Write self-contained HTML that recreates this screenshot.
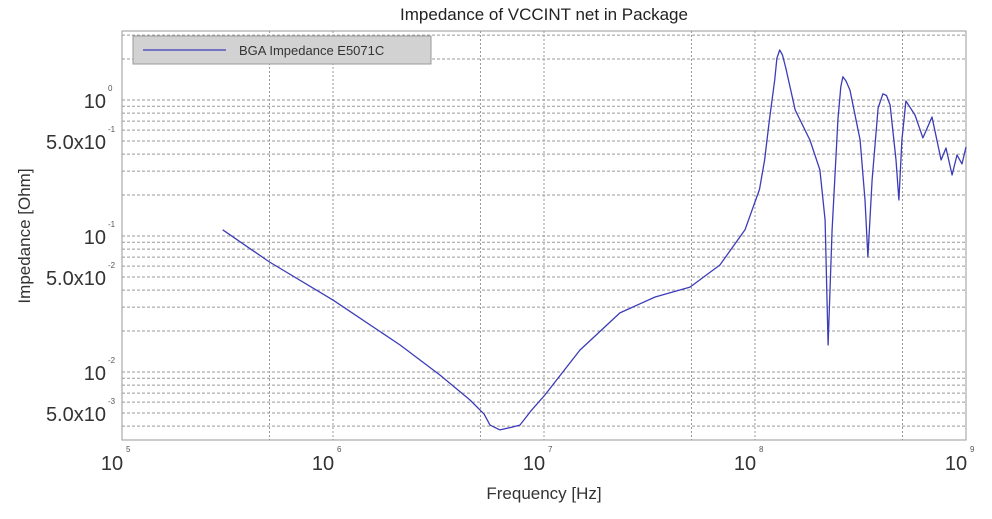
<!DOCTYPE html>
<html><head><meta charset="utf-8"><style>
body{margin:0;background:#fff;}
svg{display:block;font-family:"Liberation Sans",sans-serif;}
</style></head><body>
<svg id="chart" width="992" height="519" viewBox="0 0 992 519" xmlns="http://www.w3.org/2000/svg">
<text x="544" y="20" font-size="17" text-anchor="middle" fill="#222">Impedance of VCCINT net in Package</text>
<g id="grid"></g>
<rect x="122" y="31" width="844" height="409" fill="none" stroke="#999" stroke-width="1"/>
<g id="axes"></g>
<path id="series" fill="none" stroke="#3c3cb8" stroke-width="1.3" stroke-linejoin="round"/>
<g>
<rect x="133" y="36" width="298" height="28" fill="#d2d2d2" stroke="#999"/>
<line x1="143" y1="50" x2="226" y2="50" stroke="#3c3cb8" stroke-width="1.3"/>
<text x="239" y="55" font-size="13" fill="#333">BGA Impedance E5071C</text>
</g>
<text x="544" y="499" font-size="17" text-anchor="middle" fill="#333">Frequency [Hz]</text>
<text transform="translate(30,236) rotate(-90)" font-size="17" text-anchor="middle" fill="#333">Impedance [Ohm]</text>
</svg>
<script>
const freqs=[3.0e5,5.0e5,1e6,2.08e6,3.21e6,4.46e6,5.2e6,5.55e6,6.18e6,6.9e6,7.69e6,8.7e6,1.01e7,1.48e7,2.29e7,3.36e7,4.92e7,6.82e7,8.97e7,1.05e8,1.11e8,1.17e8,1.24e8,1.27e8,1.31e8,1.35e8,1.40e8,1.55e8,1.82e8,2.03e8,2.15e8,2.22e8,2.32e8,2.47e8,2.55e8,2.61e8,2.7e8,2.82e8,3.15e8,3.32e8,3.43e8,3.59e8,3.83e8,4.04e8,4.2e8,4.37e8,4.66e8,4.81e8,4.97e8,5.19e8,5.73e8,6.25e8,6.90e8,7.62e8,8.04e8,8.59e8,9.06e8,9.57e8,1e9];
const impedance=[0.111,0.0644,0.0338,0.0158,0.0095,0.00622,0.0049,0.00407,0.00375,0.0039,0.00407,0.0052,0.00678,0.0145,0.0272,0.0356,0.0421,0.0612,0.111,0.22,0.362,0.713,1.40,2.03,2.33,2.14,1.72,0.844,0.508,0.306,0.131,0.0158,0.111,0.713,1.25,1.48,1.38,1.18,0.508,0.184,0.0701,0.258,0.873,1.11,1.08,0.919,0.362,0.184,0.508,0.983,0.776,0.526,0.750,0.362,0.444,0.281,0.394,0.339,0.451];
const xTickExps=[5,6,7,8,9];
const yTickVals=[1,0.5,0.1,0.05,0.01,0.005];
const yTickLabels=[["10","0"],["5.0x10","-1"],["10","-1"],["5.0x10","-2"],["10","-2"],["5.0x10","-3"]];

const NS="http://www.w3.org/2000/svg";
const X0=122,X1=966,YT=31,YB=440;
function xs(f){return X0+(Math.log10(f)-5)*(X1-X0)/4;}
function ys(z){return 100-Math.log10(z)*136;}
function mk(tag,attrs,parent){const e=document.createElementNS(NS,tag);for(const k in attrs)e.setAttribute(k,attrs[k]);parent.appendChild(e);return e;}
const grid=document.getElementById('grid'),axes=document.getElementById('axes');
for(let d=-3;d<=0;d++){for(let m=1;m<=9;m++){const v=m*Math.pow(10,d);const y=ys(v);if(y<YT+1||y>YB-1)continue;
const l=mk('line',{x1:X0,x2:X1,y1:y,y2:y,stroke:'#999','stroke-width':1,'stroke-dasharray':'3,2'},grid);

}}
{const y=ys(2);const l=mk('line',{x1:X0,x2:X1,y1:y,y2:y,stroke:'#999','stroke-width':1,'stroke-dasharray':'3,2'},grid);

}
for(let d=5;d<9;d++){[5,10].forEach(m=>{const x=xs(m*Math.pow(10,d));if(x>X1-1)return;
const l=mk('line',{x1:x,x2:x,y1:YT,y2:YB,stroke:'#999','stroke-width':1,'stroke-dasharray':'2,2'},grid);

});}
xTickExps.forEach(e=>{const x=xs(Math.pow(10,e));
const t=mk('text',{x:x-10,y:470,'font-size':20,'text-anchor':'middle',fill:'#333'},axes);t.textContent='10';


const s=mk('text',{x:x+4,y:452,'font-size':8,fill:'#555'},axes);s.textContent=String(e);

});
yTickVals.forEach((v,i)=>{const y=ys(v);
const t=mk('text',{x:106,y:y+8,'font-size':20,'text-anchor':'end',fill:'#333'},axes);t.textContent=yTickLabels[i][0];


const s=mk('text',{x:108,y:y-9,'font-size':8,fill:'#555'},axes);s.textContent=yTickLabels[i][1];

});
document.getElementById('series').setAttribute('d',freqs.map((f,i)=>(i?'L':'M')+xs(f).toFixed(1)+','+ys(impedance[i]).toFixed(1)).join(''));
</script>
</body></html>
